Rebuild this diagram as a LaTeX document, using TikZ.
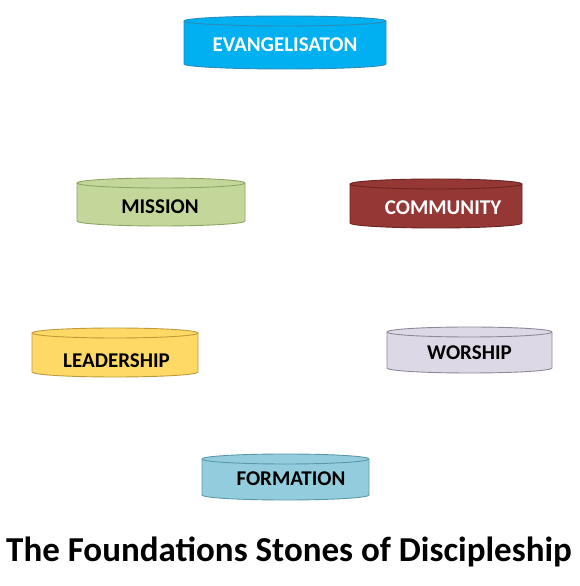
\documentclass[tikz,border=0pt]{standalone}
\usepackage{fontspec}
\setmainfont{Carlito}

\definecolor{evblue}{HTML}{00B0F0}
\definecolor{evline}{HTML}{2A8CB8}
\definecolor{migreen}{HTML}{C4D79B}
\definecolor{miline}{HTML}{8EA466}
\definecolor{cored}{HTML}{953735}
\definecolor{coline}{HTML}{6A2422}
\definecolor{leyellow}{HTML}{FFD966}
\definecolor{leline}{HTML}{BF9A3A}
\definecolor{wolilac}{HTML}{DDD8E6}
\definecolor{woline}{HTML}{8E8898}
\definecolor{foblue}{HTML}{93CDDD}
\definecolor{foline}{HTML}{5A98A8}

% stone: centre x, centre y, half width, half height, fill, border
\newcommand{\stone}[6]{%
  \filldraw[fill=#5, draw=#6, line width=0.9pt]
    ({#1-#3},{#2+#4}) -- ({#1-#3},{#2-#4})
    arc[start angle=180, end angle=360, x radius=#3, y radius=5]
    -- ({#1+#3},{#2+#4})
    arc[start angle=0, end angle=180, x radius=#3, y radius=5] -- cycle;
  \draw[#6, line width=0.9pt] ({#1-#3},{#2+#4})
    arc[start angle=180, end angle=360, x radius=#3, y radius=5];
}

\tikzset{
  word/.style={font=\fontsize{21}{24}\selectfont\bfseries, inner sep=0pt},
}

\begin{document}
\begin{tikzpicture}[x=1pt, y=1pt]
        \useasboundingbox (0,0) rectangle (579,586);

        % top
        \stone{285}{543.5}{101}{21.5}{evblue}{evline}
        \node[word, text=white] (evangelisation) at (285,541) {EVANGELISATON};

        % second row
        \stone{161}{384}{84}{19}{migreen}{miline}
        \node[word, text=black] (mission) at (160,379) {MISSION};
        \stone{436}{382.5}{86}{19.5}{cored}{coline}
        \node[word, text=white] (community) at (443,378) {COMMUNITY};

        % third row
        \stone{115}{233.5}{83}{19.5}{leyellow}{leline}
        \node[word, text=black] (leadership) at (116.5,225) {LEADERSHIP};
        \stone{469.5}{236}{82.5}{18}{wolilac}{woline}
        \node[word, text=black] (worship) at (469.5,233) {WORSHIP};

        % bottom
        \stone{285.5}{109}{83.5}{18}{foblue}{foline}
        \node[word, text=black] (formation) at (291,107.5) {FORMATION};

        % title
        \node[font=\fontsize{35}{40}\selectfont\bfseries, inner sep=0pt, anchor=base] (title) at (289,24) {The Foundations Stones of Discipleship};
    \end{tikzpicture}
\end{document}
